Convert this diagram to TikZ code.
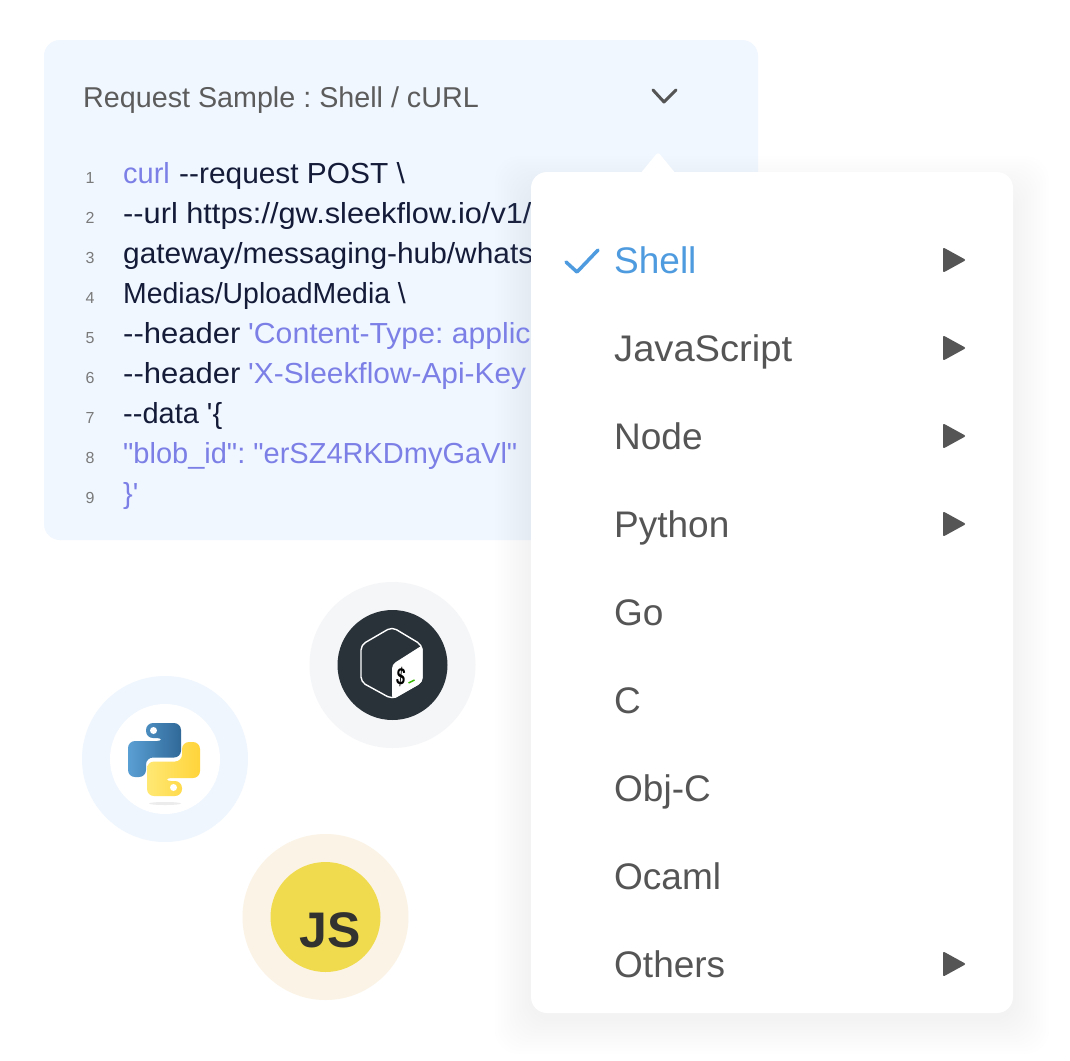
\documentclass[tikz,border=0pt]{standalone}
\usepackage{fontspec}
\setmainfont{Liberation Sans}[Ligatures=TeXOff]
\frenchspacing
\definecolor{cardblue}{HTML}{F0F7FF}
\definecolor{titlegray}{HTML}{5C5C5C}
\definecolor{codedark}{HTML}{141B38}
\definecolor{codepurple}{HTML}{7C80E6}
\definecolor{numgray}{HTML}{7A7A7A}
\definecolor{menublue}{HTML}{4F9BDF}
\definecolor{menugray}{HTML}{555555}
\definecolor{bashdark}{HTML}{293239}
\definecolor{ringgray}{HTML}{F5F6F8}
\definecolor{ringblue}{HTML}{EFF6FE}
\definecolor{ringcream}{HTML}{FBF3E5}
\definecolor{jsyellow}{HTML}{F0DB4F}
\definecolor{jsdark}{HTML}{323330}
\definecolor{shadowblue}{HTML}{B4CDF2}
\definecolor{pyblueA}{HTML}{5A9FD4}
\definecolor{pyblueB}{HTML}{306998}
\definecolor{pyyellowA}{HTML}{FFE873}
\definecolor{pyyellowB}{HTML}{FFD43B}
\tikzset{
  codeline/.style={anchor=base west, inner sep=0, text=codedark, font=\fontsize{29}{29}\selectfont},
  purpleline/.style={codeline, text=codepurple},
  linenum/.style={anchor=base, inner sep=0, text=numgray, font=\fontsize{16}{16}\selectfont},
  menuitem/.style={anchor=base west, inner sep=0, text=menugray, font=\fontsize{37}{37}\selectfont},
  playmark/.style={fill=menugray, draw=menugray, line width=2pt, line join=round},
  widened/.style={transform shape, xscale=#1},
}
\begin{document}
\begin{tikzpicture}[x=1pt, y=-1pt]
    \useasboundingbox (0, 0) rectangle (1070, 1060);
    \fill[white] (0, 0) rectangle (1070, 1060);

    % code card
    \fill[cardblue, rounded corners=16pt] (44, 40) rectangle (758, 540);
    \node[anchor=base west, inner sep=0, text=titlegray, font=\fontsize{28.7}{29}\selectfont] (title) at (83, 107) {Request Sample : Shell / cURL};
    \draw[menugray, line width=3pt, line cap=round, line join=round] (653, 90) -- (664, 102) -- (676, 90);

    \node[linenum] (num1) at (90, 183) {1};
    \node[linenum] (num2) at (90, 223) {2};
    \node[linenum] (num3) at (90, 263) {3};
    \node[linenum] (num4) at (90, 303) {4};
    \node[linenum] (num5) at (90, 343) {5};
    \node[linenum] (num6) at (90, 383) {6};
    \node[linenum] (num7) at (90, 423) {7};
    \node[linenum] (num8) at (90, 463) {8};
    \node[linenum] (num9) at (90, 503) {9};

    \node[purpleline] (curl) at (123, 183) {curl};
    \node[codeline, widened=1.03] (line1) at (179, 183) {--request POST \textbackslash};
    \node[codeline, widened=1.06] (line2) at (123, 223) {--url https://gw.sleekflow.io/v1/};
    \node[codeline, widened=1.03] (line3) at (123, 263) {gateway/messaging-hub/whats};
    \node[codeline, widened=0.98] (line4) at (123, 303) {Medias/UploadMedia \textbackslash};
    \node[codeline, widened=1.07] (line5) at (123, 343) {--header};
    \node[purpleline, widened=1.04] (type) at (248, 343) {'Content-Type: applic};
    \node[codeline, widened=1.07] (line6) at (123, 383) {--header};
    \node[purpleline, widened=1.03] (key) at (248, 383) {'X-Sleekflow-Api-Key};
    \node[codeline] (line7) at (123, 423) {--data '\{};
    \node[purpleline] (line8) at (123, 463) {"blob\_id": "erSZ4RKDmyGaVl"};
    \node[purpleline] (line9) at (123, 503) {\}'};

    % menu with its soft shadow
    \foreach \s in {36, 33, ..., 3} {
      \fill[shadowblue, opacity=0.006, rounded corners=24pt] (531-\s, 192-\s) rectangle (1013+\s, 1018+\s);
    }
    \fill[white, rounded corners=16pt] (531, 172) rectangle (1013, 1013);
    \fill[white, rounded corners=3pt] (640, 174) -- (658, 152) -- (676, 174) -- cycle;

    \draw[menublue, line width=3.5pt, line cap=round, line join=round] (566, 262) -- (577, 272) -- (598, 250);
    \node[menuitem, text=menublue] (shell) at (614, 273) {Shell};
    \node[menuitem, widened=1.03] (js) at (614, 361) {JavaScript};
    \node[menuitem] (node) at (614, 449) {Node};
    \node[menuitem] (python) at (614, 537) {Python};
    \node[menuitem] (go) at (614, 625) {Go};
    \node[menuitem] (c) at (614, 713) {C};
    \node[menuitem] (objc) at (614, 801) {Obj-C};
    \node[menuitem] (ocaml) at (614, 889) {Ocaml};
    \node[menuitem] (others) at (614, 977) {Others};

    \draw[playmark] (944, 249) -- (964, 260) -- (944, 271) -- cycle;
    \draw[playmark] (944, 337) -- (964, 348) -- (944, 359) -- cycle;
    \draw[playmark] (944, 425) -- (964, 436) -- (944, 447) -- cycle;
    \draw[playmark] (944, 513) -- (964, 524) -- (944, 535) -- cycle;
    \draw[playmark] (944, 953) -- (964, 964) -- (944, 975) -- cycle;

    % bash badge
    \fill[ringgray] (392.5, 665) circle (83);
    \fill[bashdark] (392.5, 665) circle (55);
    \draw[white, line width=1.4pt, rounded corners=5pt] (392, 627) -- (422, 645) -- (422, 682) -- (392, 699) -- (361, 682) -- (361, 645) -- cycle;
    \fill[white, rounded corners=4pt] (422.7, 645) -- (422.7, 682) -- (392, 699.8) -- (392, 664.5) -- cycle;
    \node[inner sep=0, text=black, rotate=-6, xscale=0.8, yscale=1.2, font=\fontsize{20}{20}\selectfont\bfseries] (dollar) at (401, 677) {\$};
    \draw[green!60!black!70!lime, line width=1.5pt] (408.5, 683) -- (414.5, 680);

    % python badge
    \fill[ringblue] (165, 759) circle (83);
    \fill[white] (165, 759) circle (55);
    \fill[gray!15] (165, 803.5) ellipse (16 and 1.5);
    \shade[left color=pyblueA, right color=pyblueB, rounded corners=7pt] (146, 738) -- (146, 723) -- (181, 723) -- (181, 757.5) -- (146, 757.5) -- (146, 777) -- (128, 777) -- (128, 741) -- (164, 741) -- (164, 738) -- cycle;
    \shade[left color=pyyellowA, right color=pyyellowB, rounded corners=7pt] (182, 781) -- (182, 796) -- (147, 796) -- (147, 761.5) -- (182, 761.5) -- (182, 742) -- (200, 742) -- (200, 778) -- (164, 778) -- (164, 781) -- cycle;
    \fill[white] (153.5, 730.5) circle (3.5);
    \fill[white] (173.5, 787.5) circle (3.5);

    % js badge
    \fill[ringcream] (325.5, 917) circle (83);
    \fill[jsyellow] (325.5, 917) circle (55);
    \node[inner sep=0, text=jsdark, font=\fontsize{50}{50}\selectfont\bfseries] (jslogo) at (330, 930) {JS};
\end{tikzpicture}
\end{document}
